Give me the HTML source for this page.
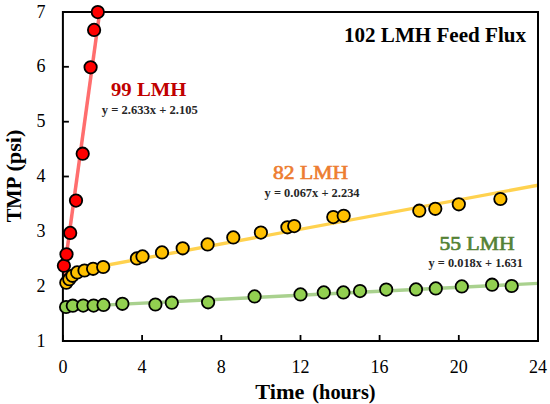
<!DOCTYPE html>
<html><head><meta charset="utf-8"><style>
html,body{margin:0;padding:0;background:#fff;}
body{width:550px;height:404px;overflow:hidden;}
svg{display:block;font-family:"Liberation Serif",serif;}
</style></head><body>
<svg width="550" height="404" viewBox="0 0 550 404">
<rect width="550" height="404" fill="#fff"/>
<defs><clipPath id="pa"><rect x="62.9" y="12.0" width="475.1" height="329.0"/></clipPath></defs>
<g clip-path="url(#pa)">
<line x1="62.9" y1="307.1" x2="538.0" y2="283.4" stroke="#A9D18E" stroke-width="3.4"/>
<line x1="62.9" y1="273.3" x2="538.0" y2="185.2" stroke="#FFD24F" stroke-width="3.4"/>
<line x1="62.9" y1="280.4" x2="99.7" y2="12.0" stroke="#FF6E6E" stroke-width="3.5"/>
</g>
<rect x="62.9" y="12.0" width="475.1" height="329.0" fill="none" stroke="#000" stroke-width="2"/>
<line x1="62.9" y1="341.0" x2="62.9" y2="335.0" stroke="#000" stroke-width="1.8"/>
<line x1="142.1" y1="341.0" x2="142.1" y2="335.0" stroke="#000" stroke-width="1.8"/>
<line x1="221.3" y1="341.0" x2="221.3" y2="335.0" stroke="#000" stroke-width="1.8"/>
<line x1="300.5" y1="341.0" x2="300.5" y2="335.0" stroke="#000" stroke-width="1.8"/>
<line x1="379.6" y1="341.0" x2="379.6" y2="335.0" stroke="#000" stroke-width="1.8"/>
<line x1="458.8" y1="341.0" x2="458.8" y2="335.0" stroke="#000" stroke-width="1.8"/>
<line x1="538.0" y1="341.0" x2="538.0" y2="335.0" stroke="#000" stroke-width="1.8"/>
<line x1="62.9" y1="341.0" x2="68.9" y2="341.0" stroke="#000" stroke-width="1.8"/>
<line x1="62.9" y1="286.2" x2="68.9" y2="286.2" stroke="#000" stroke-width="1.8"/>
<line x1="62.9" y1="231.3" x2="68.9" y2="231.3" stroke="#000" stroke-width="1.8"/>
<line x1="62.9" y1="176.5" x2="68.9" y2="176.5" stroke="#000" stroke-width="1.8"/>
<line x1="62.9" y1="121.7" x2="68.9" y2="121.7" stroke="#000" stroke-width="1.8"/>
<line x1="62.9" y1="66.8" x2="68.9" y2="66.8" stroke="#000" stroke-width="1.8"/>
<line x1="62.9" y1="12.0" x2="68.9" y2="12.0" stroke="#000" stroke-width="1.8"/>
<circle cx="63.9" cy="265.7" r="6.2" fill="#FF0000" stroke="#000" stroke-width="1.8"/>
<circle cx="66.5" cy="254.3" r="6.2" fill="#FF0000" stroke="#000" stroke-width="1.8"/>
<circle cx="70.2" cy="232.9" r="6.2" fill="#FF0000" stroke="#000" stroke-width="1.8"/>
<circle cx="76.0" cy="200.6" r="6.2" fill="#FF0000" stroke="#000" stroke-width="1.8"/>
<circle cx="82.7" cy="153.7" r="6.2" fill="#FF0000" stroke="#000" stroke-width="1.8"/>
<circle cx="90.6" cy="67.3" r="6.2" fill="#FF0000" stroke="#000" stroke-width="1.8"/>
<circle cx="94.1" cy="29.9" r="6.2" fill="#FF0000" stroke="#000" stroke-width="1.8"/>
<circle cx="97.8" cy="12.1" r="6.2" fill="#FF0000" stroke="#000" stroke-width="1.8"/>
<circle cx="66.3" cy="282.7" r="6.2" fill="#FFC000" stroke="#000" stroke-width="1.8"/>
<circle cx="69.3" cy="279.2" r="6.2" fill="#FFC000" stroke="#000" stroke-width="1.8"/>
<circle cx="72.4" cy="275.8" r="6.2" fill="#FFC000" stroke="#000" stroke-width="1.8"/>
<circle cx="77.2" cy="272.4" r="6.2" fill="#FFC000" stroke="#000" stroke-width="1.8"/>
<circle cx="84.5" cy="270.5" r="6.2" fill="#FFC000" stroke="#000" stroke-width="1.8"/>
<circle cx="93.1" cy="268.8" r="6.2" fill="#FFC000" stroke="#000" stroke-width="1.8"/>
<circle cx="103.2" cy="267.0" r="6.2" fill="#FFC000" stroke="#000" stroke-width="1.8"/>
<circle cx="136.9" cy="258.4" r="6.2" fill="#FFC000" stroke="#000" stroke-width="1.8"/>
<circle cx="142.5" cy="256.4" r="6.2" fill="#FFC000" stroke="#000" stroke-width="1.8"/>
<circle cx="162.0" cy="252.4" r="6.2" fill="#FFC000" stroke="#000" stroke-width="1.8"/>
<circle cx="182.7" cy="248.3" r="6.2" fill="#FFC000" stroke="#000" stroke-width="1.8"/>
<circle cx="207.6" cy="244.4" r="6.2" fill="#FFC000" stroke="#000" stroke-width="1.8"/>
<circle cx="233.3" cy="237.4" r="6.2" fill="#FFC000" stroke="#000" stroke-width="1.8"/>
<circle cx="260.9" cy="232.6" r="6.2" fill="#FFC000" stroke="#000" stroke-width="1.8"/>
<circle cx="287.4" cy="227.3" r="6.2" fill="#FFC000" stroke="#000" stroke-width="1.8"/>
<circle cx="294.2" cy="226.1" r="6.2" fill="#FFC000" stroke="#000" stroke-width="1.8"/>
<circle cx="333.3" cy="217.1" r="6.2" fill="#FFC000" stroke="#000" stroke-width="1.8"/>
<circle cx="343.7" cy="215.8" r="6.2" fill="#FFC000" stroke="#000" stroke-width="1.8"/>
<circle cx="419.3" cy="210.7" r="6.2" fill="#FFC000" stroke="#000" stroke-width="1.8"/>
<circle cx="435.3" cy="208.8" r="6.2" fill="#FFC000" stroke="#000" stroke-width="1.8"/>
<circle cx="458.8" cy="204.3" r="6.2" fill="#FFC000" stroke="#000" stroke-width="1.8"/>
<circle cx="500.4" cy="199.0" r="6.2" fill="#FFC000" stroke="#000" stroke-width="1.8"/>
<circle cx="66.1" cy="307.0" r="6.2" fill="#92D050" stroke="#000" stroke-width="1.8"/>
<circle cx="72.8" cy="305.7" r="6.2" fill="#92D050" stroke="#000" stroke-width="1.8"/>
<circle cx="83.2" cy="305.6" r="6.2" fill="#92D050" stroke="#000" stroke-width="1.8"/>
<circle cx="93.6" cy="305.6" r="6.2" fill="#92D050" stroke="#000" stroke-width="1.8"/>
<circle cx="103.5" cy="304.9" r="6.2" fill="#92D050" stroke="#000" stroke-width="1.8"/>
<circle cx="122.4" cy="303.8" r="6.2" fill="#92D050" stroke="#000" stroke-width="1.8"/>
<circle cx="155.4" cy="304.5" r="6.2" fill="#92D050" stroke="#000" stroke-width="1.8"/>
<circle cx="171.8" cy="302.7" r="6.2" fill="#92D050" stroke="#000" stroke-width="1.8"/>
<circle cx="208.1" cy="302.3" r="6.2" fill="#92D050" stroke="#000" stroke-width="1.8"/>
<circle cx="254.6" cy="296.4" r="6.2" fill="#92D050" stroke="#000" stroke-width="1.8"/>
<circle cx="300.5" cy="294.4" r="6.2" fill="#92D050" stroke="#000" stroke-width="1.8"/>
<circle cx="323.8" cy="292.4" r="6.2" fill="#92D050" stroke="#000" stroke-width="1.8"/>
<circle cx="343.4" cy="292.4" r="6.2" fill="#92D050" stroke="#000" stroke-width="1.8"/>
<circle cx="360.0" cy="291.1" r="6.2" fill="#92D050" stroke="#000" stroke-width="1.8"/>
<circle cx="386.2" cy="289.6" r="6.2" fill="#92D050" stroke="#000" stroke-width="1.8"/>
<circle cx="416.0" cy="289.4" r="6.2" fill="#92D050" stroke="#000" stroke-width="1.8"/>
<circle cx="435.8" cy="288.4" r="6.2" fill="#92D050" stroke="#000" stroke-width="1.8"/>
<circle cx="461.8" cy="286.4" r="6.2" fill="#92D050" stroke="#000" stroke-width="1.8"/>
<circle cx="492.1" cy="284.7" r="6.2" fill="#92D050" stroke="#000" stroke-width="1.8"/>
<circle cx="511.7" cy="286.0" r="6.2" fill="#92D050" stroke="#000" stroke-width="1.8"/>
<g font-size="18" fill="#000">
<text x="62.9" y="373" text-anchor="middle">0</text>
<text x="142.1" y="373" text-anchor="middle">4</text>
<text x="221.3" y="373" text-anchor="middle">8</text>
<text x="300.5" y="373" text-anchor="middle">12</text>
<text x="379.6" y="373" text-anchor="middle">16</text>
<text x="458.8" y="373" text-anchor="middle">20</text>
<text x="538.0" y="373" text-anchor="middle">24</text>
<text x="45.5" y="346.5" text-anchor="end">1</text>
<text x="45.5" y="291.7" text-anchor="end">2</text>
<text x="45.5" y="236.8" text-anchor="end">3</text>
<text x="45.5" y="182.0" text-anchor="end">4</text>
<text x="45.5" y="127.2" text-anchor="end">5</text>
<text x="45.5" y="72.3" text-anchor="end">6</text>
<text x="45.5" y="17.5" text-anchor="end">7</text>
</g>
<text x="255.3" y="398.8" font-size="21.5" font-weight="bold" textLength="49.2" lengthAdjust="spacingAndGlyphs">Time</text>
<text x="312.3" y="398.8" font-size="21.5" font-weight="bold" textLength="63.3" lengthAdjust="spacingAndGlyphs">(hours)</text>
<text transform="translate(20.5,222.3) rotate(-90)" font-size="22" font-weight="bold" textLength="45.5" lengthAdjust="spacingAndGlyphs">TMP</text>
<text transform="translate(20.5,171.6) rotate(-90)" font-size="22" font-weight="bold" textLength="42" lengthAdjust="spacingAndGlyphs">(psi)</text>
<text x="344" y="42.3" font-size="20" font-weight="bold" textLength="182" lengthAdjust="spacingAndGlyphs">102 LMH Feed Flux</text>
<text x="111" y="96.2" font-size="19" font-weight="bold" fill="#C00000" textLength="75.5" lengthAdjust="spacingAndGlyphs">99 LMH</text>
<text x="101.8" y="113.6" font-size="12" font-weight="bold" fill="#262626" textLength="96" lengthAdjust="spacingAndGlyphs">y = 2.633x + 2.105</text>
<text x="273" y="179.4" font-size="19" fill="#ED7D31" stroke="#ED7D31" stroke-width="0.65" textLength="75" lengthAdjust="spacingAndGlyphs">82 LMH</text>
<text x="264.6" y="196.9" font-size="12" font-weight="bold" fill="#262626" textLength="95" lengthAdjust="spacingAndGlyphs">y = 0.067x + 2.234</text>
<text x="439.5" y="250.1" font-size="19" fill="#548235" stroke="#548235" stroke-width="0.65" textLength="75" lengthAdjust="spacingAndGlyphs">55 LMH</text>
<text x="428.5" y="266.9" font-size="12" font-weight="bold" fill="#262626" textLength="94.5" lengthAdjust="spacingAndGlyphs">y = 0.018x + 1.631</text>
</svg>
</body></html>
